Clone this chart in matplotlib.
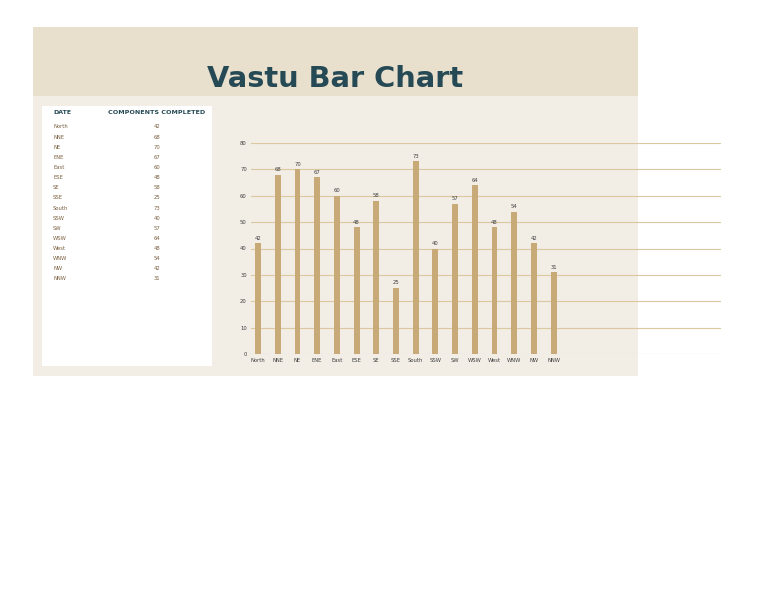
import matplotlib.pyplot as plt
from matplotlib.patches import Rectangle

directions = ['North', 'NNE', 'NE', 'ENE', 'East', 'ESE', 'SE', 'SSE', 'South',
              'SSW', 'SW', 'WSW', 'West', 'WNW', 'NW', 'NNW']
completed = [42, 68, 70, 67, 60, 48, 58, 25, 73, 40, 57, 64, 48, 54, 42, 31]
yticks = [0, 10, 20, 30, 40, 50, 60, 70, 80]

W, H = 768, 594
fig = plt.figure(figsize=(W / 100, H / 100), dpi=100)
fig.patch.set_facecolor('white')


def px_rect(x0, y0, x1, y1, color):
    fig.patches.append(Rectangle((x0 / W, 1 - y1 / H), (x1 - x0) / W, (y1 - y0) / H,
                                 transform=fig.transFigure, facecolor=color,
                                 edgecolor='none', zorder=-5))


# background blocks
px_rect(33, 27, 638, 96, '#e8dfcc')
px_rect(33, 96, 638, 376, '#f2ede5')
px_rect(42, 106, 212, 366, 'white')

fig.text(335 / W, 1 - 79 / H, 'Vastu Bar Chart', ha='center', va='center',
         fontsize=20.8, fontweight='bold', color='#264a55')

# data table
fig.text(53 / W, 1 - 113 / H, 'DATE', fontsize=4.5, fontweight='bold',
         color='#264a55', va='center')
fig.text(157 / W, 1 - 113 / H, 'COMPONENTS COMPLETED', fontsize=4.6,
         fontweight='bold', color='#264a55', va='center', ha='center')
for i, (d, v) in enumerate(zip(directions, completed)):
    y = 1 - (127 + i * 10.13) / H
    fig.text(53 / W, y, d, fontsize=3.8, color='#7a6040', va='center')
    fig.text(157 / W, y, str(v), fontsize=3.8, color='#7a6040', va='center', ha='center')

# chart
ax = fig.add_axes([251 / W, 1 - 354 / H, (721 - 251) / W, (354 - 143) / H])
ax.set_zorder(5)
ax.set_facecolor('none')
x = list(range(len(directions)))
bars = ax.bar(x, completed, width=0.3, color='#c8aa78', zorder=3)
for b, v in zip(bars, completed):
    ax.text(b.get_x() + b.get_width() / 2, v + 1.0, str(v), ha='center', va='bottom',
            fontsize=3.8, color='#404040')

ax.set_xlim(-0.36, 23.5)
ax.set_ylim(0, 80)
ax.set_yticks(yticks)
ax.set_xticks(x)
ax.set_xticklabels(directions)
ax.tick_params(axis='both', length=0, labelsize=3.8, colors='#404040', pad=3)
for t in yticks[1:]:
    ax.axhline(t, color='#dcc8a0', lw=0.8, zorder=1)
ax.axhline(0, color='#d9d9d9', lw=0.8, zorder=2)
for s in ax.spines.values():
    s.set_visible(False)

fig.savefig('out.png', dpi=100)
